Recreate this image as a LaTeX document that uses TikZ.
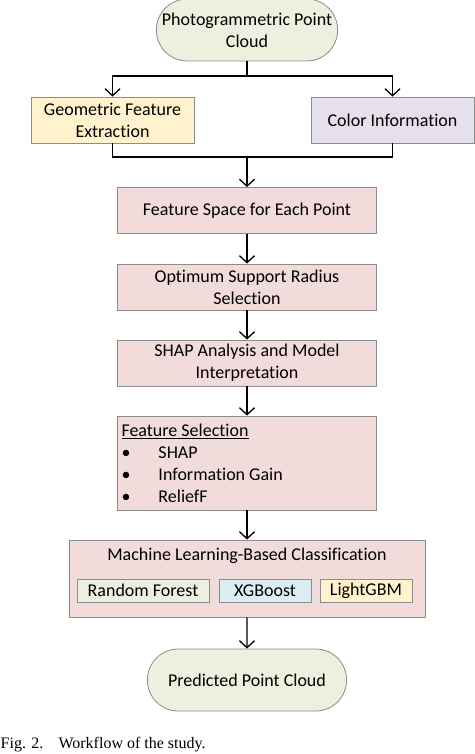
\documentclass[tikz,border=0pt]{standalone}
\usepackage{fontspec}
\setmainfont{Carlito}[Ligatures=NoCommon]
\newfontfamily\capfont{Liberation Serif}
\usetikzlibrary{arrows.meta,shapes.misc}
\definecolor{termgreen}{HTML}{EBF1DE}
\definecolor{procpink}{HTML}{F2DCDB}
\definecolor{geoyellow}{HTML}{FFF2CC}
\definecolor{collilac}{HTML}{E6E0EC}
\definecolor{xgblue}{HTML}{DBEEF4}
\definecolor{edgegray}{HTML}{8C8C8C}
\tikzset{
  boxfont/.style={font=\fontsize{18}{22}\selectfont},
  terminal/.style={rounded rectangle, draw=edgegray, fill=termgreen, line width=0.8pt,
    minimum height=62pt, align=center, boxfont},
  procbox/.style={rectangle, draw=edgegray, fill=procpink, line width=0.8pt,
    minimum width=259pt, minimum height=46pt, align=center, boxfont},
  subbox/.style={rectangle, draw=edgegray, line width=0.8pt, minimum height=23pt,
    inner sep=0pt, boxfont},
  flow/.style={-{Straight Barb[length=7pt,width=15pt]}, line width=1.3pt},
  link/.style={line width=1.3pt}
}
\begin{document}
\begin{tikzpicture}[x=1pt,y=-1pt]
  \useasboundingbox (0,0) rectangle (474,754);
  % start and the two inputs
  \node[terminal, minimum width=188pt] (pc) at (247,30) {Photogrammetric Point\\Cloud};
  \node[procbox, fill=geoyellow, minimum width=163pt] (geo) at (112.5,120) {Geometric Feature\\Extraction};
  \node[procbox, fill=collilac, minimum width=163pt] (col) at (392.5,120) {Color Information};
  % main chain
  \node[procbox] (fsp) at (247,210.5) {Feature Space for Each Point};
  \node[procbox] (osr) at (247,287) {Optimum Support Radius\\Selection};
  \node[procbox] (shap) at (247,363) {SHAP Analysis and Model\\Interpretation};
  \node[procbox, minimum height=94pt, text width=251pt, inner xsep=4pt, align=flush left] (fs) at (247,463)
    {\underline{Feature Selection}\\
     \makebox[37pt][l]{\textbullet}SHAP\\
     \makebox[37pt][l]{\textbullet}Information Gain\\
     \makebox[37pt][l]{\textbullet}ReliefF};
  \node[procbox, minimum width=356pt, minimum height=77pt] (ml) at (247,578.5) {};
  \node[boxfont] (mltitle) at (247,556) {Machine Learning-Based Classification};
  \node[subbox, fill=termgreen, minimum width=132pt] (rf) at (143,590.5) {Random Forest};
  \node[subbox, fill=xgblue, minimum width=92pt] (xgb) at (265,590.5) {XGBoost};
  \node[subbox, fill=geoyellow, minimum width=92pt] (lgbm) at (366,590.5) {LightGBM};
  \node[terminal, minimum width=206pt] (pred) at (247,680) {Predicted Point Cloud};
  % caption
  \node[anchor=base west, inner sep=0pt, font=\capfont\fontsize{16}{18}\selectfont] (cap) at (0.5,748)
    {Fig. 2.\hspace{0.95em}Workflow of the study.};
  % connectors
  \coordinate (split) at (247,76);
  \coordinate (merge) at (247,157);
  \draw[link] (pc.south) -- (split);
  \draw[flow] (split) -| (geo.north);
  \draw[flow] (split) -| (col.north);
  \draw[link] (geo.south) |- (merge);
  \draw[link] (col.south) |- (merge);
  \draw[flow] (merge) -- (fsp.north);
  \draw[flow] (fsp) -- (osr);
  \draw[flow] (osr) -- (shap);
  \draw[flow] (shap) -- (fs);
  \draw[flow] (fs) -- (ml);
  \draw[flow] (ml) -- (pred);
\end{tikzpicture}
\end{document}
